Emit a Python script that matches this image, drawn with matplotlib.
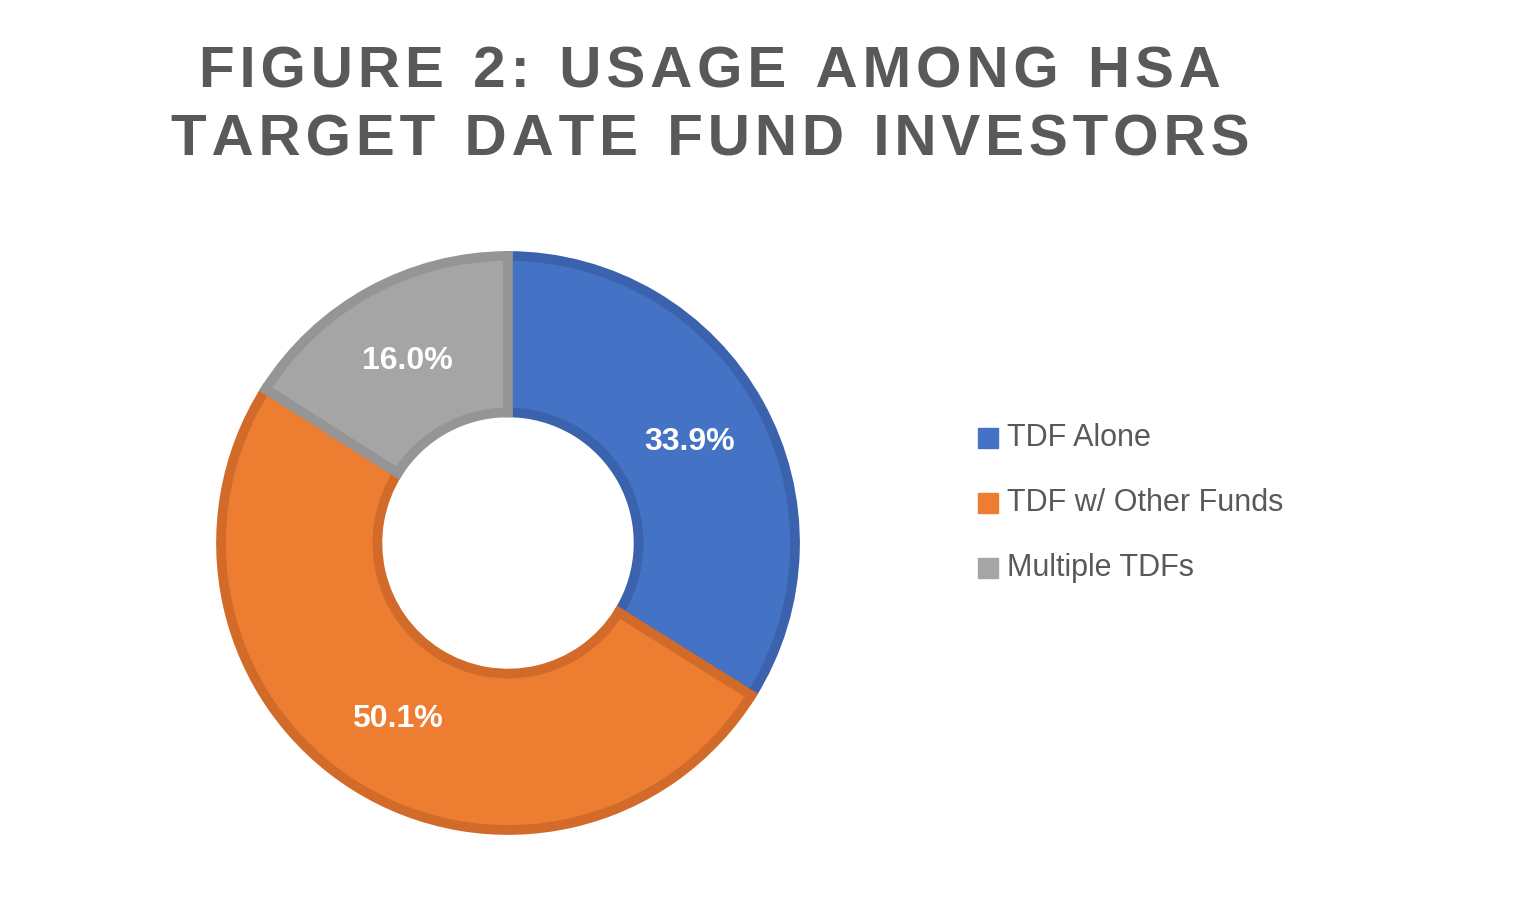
import matplotlib
matplotlib.use('Agg')
import matplotlib.pyplot as plt
from matplotlib.patches import Rectangle

# data
categories = ['TDF Alone', 'TDF w/ Other Funds', 'Multiple TDFs']
shares = [33.9, 50.1, 16.0]
colors = ['#4472C4', '#ED7D31', '#A5A5A5']
edge_colors = ['#3B63AD', '#D26A2A', '#959595']

W, H = 1536, 922
fig = plt.figure(figsize=(W / 100, H / 100), dpi=100)
fig.patch.set_facecolor('white')

# donut, centered at (508, 543) px, outer radius ~287 px
cx, cy, half = 508, 543, 300
ax = fig.add_axes([(cx - half) / W, (H - cy - half) / H, 2 * half / W, 2 * half / H])
wedges, _, autotexts = ax.pie(shares, colors=colors, startangle=90, counterclock=False,
                              radius=1.0, autopct='%.1f%%', pctdistance=0.725,
                              wedgeprops=dict(width=0.545, linewidth=7))
for w, ec in zip(wedges, edge_colors):
    w.set_edgecolor(ec)
    w.set_joinstyle('miter')
for t in autotexts:
    t.set_color('white')
    t.set_fontsize(23)
    t.set_fontweight('bold')
    t.set_fontfamily('Liberation Sans')
lim = half / 287
ax.set_xlim(-lim, lim)
ax.set_ylim(-lim, lim)
ax.set_aspect('equal')
ax.axis('off')

# title
title_kw = dict(ha='center', va='center', fontsize=42, fontweight='bold',
                color='#595959', family='Liberation Sans')
fig.text(710 / W, 1 - 72 / H, 'F I G U R E   2 :   U S A G E   A M O N G   H S A'.replace('   ', '\u2002').replace(' ', '\u200a'), **title_kw)
fig.text(710 / W, 1 - 140 / H, 'T A R G E T   D A T E   F U N D   I N V E S T O R S'.replace('   ', '\u2002').replace(' ', '\u200a'), **title_kw)

# legend
for i, (lab, c) in enumerate(zip(categories, colors)):
    y = 438 + 65 * i
    fig.patches.append(Rectangle(((978) / W, 1 - (y + 10) / H), 20 / W, 20 / H,
                                 transform=fig.transFigure, color=c))
    fig.text(1007 / W, 1 - y / H, lab, ha='left', va='center', fontsize=22,
             color='#595959', family='Liberation Sans')

plt.savefig('out.png', dpi=100, facecolor='white')
